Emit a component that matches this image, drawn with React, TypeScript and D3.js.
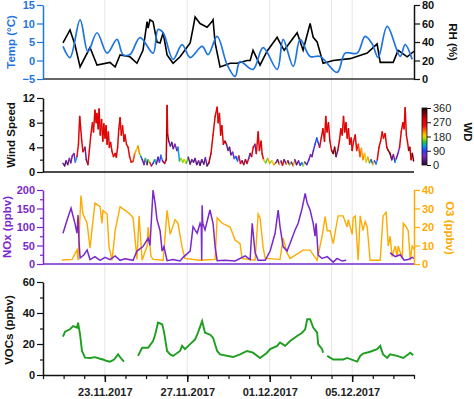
import * as d3 from "d3";
import { useEffect, useRef } from "react";

// time axis: days since 20.11.2017 00:00
const t0 = new Date(2017, 10, 20).getTime();
const day = (d: number) => new Date(t0 + d * 864e5);

const tempData: [number, number][] = [
  [0.97, 3.8], [1.31, 0.8], [1.8, 11], [2.18, 2.4], [2.62, 7.5], [3.11, 2], [3.59, 5.7], [3.88, 1.6],
  [4.22, 1.6], [4.71, 6.2], [5.34, 2], [5.58, 8.4], [5.83, 7.5], [6.31, 0.3], [6.75, 4.3], [7.14, 0.8],
  [7.72, 3.8], [8.01, 1.6], [8.45, 6.5], [8.93, -1.1], [9.32, -4.3], [9.56, -0.3], [10.19, -2.4],
  [10.68, 3.5], [11.36, -2.4], [11.65, 5.7], [12.14, -1.6], [12.48, 5.7], [12.96, 1.1], [13.45, 1.1],
  [14.27, -3.2], [14.66, 2], [15.24, 2], [15.63, 6.5], [15.97, 4.5], [16.26, 0.8], [16.7, 9.2],
  [17.33, 1.1], [17.57, 4.3], [17.91, 0.3],
];

const rhData: [number, number][] = [
  [0.97, 39], [1.31, 53], [1.55, 37], [1.8, 13], [2.28, 34], [2.62, 15], [3.25, 18], [3.5, 13],
  [3.74, 26], [4.22, 24], [4.56, 17], [4.85, 31], [5.05, 62], [5.1, 55], [5.19, 64], [5.34, 62],
  [5.53, 40], [5.68, 39], [5.83, 50], [6.02, 26], [6.31, 17], [6.65, 24], [7.14, 39], [7.28, 55],
  [7.38, 67], [7.62, 60], [7.96, 56], [8.2, 62], [8.25, 64], [8.35, 39], [8.59, 13], [9.08, 17],
  [9.42, 17], [9.9, 20], [10.05, 20], [10.19, 31], [10.53, 15], [10.87, 30], [11.36, 45], [11.5, 39],
  [11.7, 31], [12.33, 50], [12.62, 31], [12.96, 60], [13.11, 45], [13.3, 40], [13.59, 17], [14.08, 20],
  [14.9, 22], [15.73, 28], [16.21, 38], [16.36, 18], [16.99, 18], [17.23, 31], [17.67, 24], [18.0, 30],
];

// [day, wind speed, wind direction]
const windData: [number, number, number][] = [
  [0.97, 1.4, 40], [1.05, 1.0, 20], [1.12, 1.8, 50], [1.2, 1.2, 30], [1.28, 2.2, 60], [1.35, 1.5, 45],
  [1.42, 2.6, 55], [1.5, 3.0, 50], [1.57, 1.6, 120], [1.65, 2.5, 250], [1.72, 4.5, 270], [1.78, 9.0, 280],
  [1.82, 7.5, 275], [1.88, 5.0, 270], [1.94, 3.3, 280], [2.04, 4.0, 40], [2.1, 2.0, 30], [2.18, 1.2, 280],
  [2.25, 3.5, 270], [2.32, 6.0, 275], [2.4, 8.0, 270], [2.45, 6.5, 280], [2.52, 10.0, 270], [2.58, 8.0, 275],
  [2.62, 9.5, 270], [2.68, 7.0, 280], [2.72, 10.2, 275], [2.78, 6.0, 270], [2.84, 8.5, 275], [2.9, 5.0, 280],
  [2.95, 7.8, 270], [3.01, 5.5, 275], [3.06, 7.5, 280], [3.11, 4.5, 270], [3.17, 6.5, 275], [3.22, 4.0, 270],
  [3.28, 4.8, 280], [3.35, 3.3, 270], [3.42, 2.5, 275], [3.5, 3.0, 270], [3.56, 2.4, 280], [3.62, 4.0, 270],
  [3.68, 7.0, 275], [3.74, 8.8, 270], [3.8, 6.0, 280], [3.86, 7.5, 270], [3.93, 5.0, 275], [3.98, 6.0, 270],
  [4.05, 4.5, 280], [4.13, 4.0, 270], [4.2, 2.5, 260], [4.28, 1.6, 250], [4.37, 1.7, 230], [4.45, 3.0, 200],
  [4.52, 3.5, 180], [4.61, 4.2, 210], [4.68, 3.0, 160], [4.75, 2.5, 100], [4.82, 2.0, 40], [4.9, 1.2, 60],
  [4.97, 2.2, 140], [5.05, 1.2, 30], [5.1, 2.0, 160], [5.19, 1.5, 240], [5.26, 1.0, 50], [5.34, 1.4, 100],
  [5.42, 2.0, 130], [5.5, 1.3, 40], [5.58, 2.4, 90], [5.65, 1.6, 60], [5.72, 2.7, 110], [5.8, 1.8, 30],
  [5.9, 1.4, 280], [5.98, 2.0, 300], [6.02, 10.8, 280], [6.05, 6.0, 320], [6.1, 5.0, 40], [6.18, 4.2, 50],
  [6.25, 4.8, 30], [6.32, 3.8, 45], [6.4, 4.5, 60], [6.5, 3.5, 40], [6.55, 4.0, 120], [6.62, 1.8, 150],
  [6.7, 2.2, 170], [6.78, 1.6, 160], [6.85, 2.0, 180], [6.95, 1.4, 150], [7.05, 2.4, 40], [7.14, 1.3, 30],
  [7.22, 2.0, 50], [7.3, 1.6, 20], [7.38, 2.2, 45], [7.46, 1.2, 30], [7.55, 1.8, 50], [7.62, 1.1, 20],
  [7.7, 2.0, 40], [7.8, 1.3, 30], [7.88, 2.3, 50], [7.96, 1.0, 20], [8.05, 1.5, 300], [8.15, 3.0, 280],
  [8.25, 6.0, 275], [8.35, 9.0, 270], [8.45, 10.5, 280], [8.5, 8.0, 275], [8.56, 9.5, 270], [8.62, 6.0, 280],
  [8.68, 7.5, 275], [8.75, 4.5, 285], [8.83, 5.0, 310], [8.9, 4.5, 40], [8.98, 3.5, 50], [9.05, 4.0, 30],
  [9.12, 2.8, 45], [9.2, 3.2, 70], [9.28, 2.2, 100], [9.36, 2.5, 90], [9.44, 1.8, 110], [9.5, 2.6, 260],
  [9.58, 1.4, 270], [9.66, 1.8, 40], [9.74, 1.2, 280], [9.82, 2.0, 30], [9.9, 1.4, 270], [9.98, 2.2, 50],
  [10.05, 3.0, 40], [10.12, 2.5, 270], [10.2, 4.0, 280], [10.28, 4.5, 40], [10.35, 3.0, 270], [10.44, 6.5, 275],
  [10.5, 3.5, 280], [10.58, 5.0, 270], [10.63, 3.0, 275], [10.7, 2.0, 180], [10.8, 1.5, 150], [10.9, 2.2, 200],
  [11.0, 1.4, 160], [11.1, 1.8, 190], [11.2, 1.2, 210], [11.3, 1.5, 40], [11.38, 2.0, 30], [11.46, 1.3, 200],
  [11.55, 1.8, 50], [11.62, 1.1, 270], [11.7, 2.0, 40], [11.8, 1.3, 210], [11.88, 1.8, 30], [11.96, 1.2, 160],
  [12.05, 1.6, 50], [12.14, 1.0, 200], [12.22, 2.0, 40], [12.3, 1.2, 30], [12.4, 1.8, 60], [12.48, 1.1, 90],
  [12.56, 1.5, 120], [12.62, 1.0, 170], [12.7, 1.6, 40], [12.8, 1.2, 80], [12.9, 2.0, 50], [12.98, 2.8, 60],
  [13.05, 2.5, 40], [13.12, 3.5, 80], [13.2, 4.5, 95], [13.28, 5.5, 100], [13.35, 4.8, 90], [13.42, 4.0, 280],
  [13.5, 5.5, 270], [13.58, 7.0, 275], [13.66, 5.0, 280], [13.72, 9.0, 270], [13.78, 6.5, 275], [13.85, 8.0, 280],
  [13.92, 5.0, 270], [14.0, 3.5, 320], [14.08, 3.0, 330], [14.15, 4.0, 320], [14.22, 2.5, 30], [14.3, 3.5, 300],
  [14.38, 5.0, 280], [14.45, 7.0, 270], [14.52, 6.0, 275], [14.58, 9.0, 270], [14.64, 6.5, 280], [14.7, 8.0, 275],
  [14.76, 5.5, 270], [14.82, 7.0, 280], [14.88, 4.5, 275], [14.95, 5.5, 270], [15.0, 3.5, 280], [15.07, 5.0, 275],
  [15.15, 6.0, 270], [15.22, 3.5, 240], [15.3, 4.5, 230], [15.38, 2.5, 220], [15.45, 3.8, 200], [15.52, 2.0, 210],
  [15.6, 3.0, 190], [15.68, 1.6, 180], [15.76, 2.4, 200], [15.84, 1.5, 140], [15.92, 2.0, 100], [16.0, 1.2, 190],
  [16.08, 1.8, 60], [16.16, 1.3, 120], [16.22, 2.0, 270], [16.3, 4.0, 275], [16.38, 5.0, 270], [16.46, 6.5, 280],
  [16.52, 5.5, 270], [16.6, 6.2, 275], [16.68, 4.0, 300], [16.75, 3.5, 320], [16.84, 3.0, 330], [16.92, 2.0, 40],
  [17.0, 2.8, 50], [17.08, 1.6, 120], [17.14, 2.2, 40], [17.22, 3.0, 60], [17.3, 4.0, 280], [17.38, 6.5, 270],
  [17.46, 8.0, 275], [17.52, 7.0, 270], [17.57, 10.4, 275], [17.63, 6.0, 280], [17.68, 5.0, 270], [17.74, 3.5, 320],
  [17.8, 4.0, 300], [17.86, 2.0, 280], [17.92, 3.0, 330], [17.98, 1.8, 290],
];

const noxData: [number, number | null][] = [
  [0.97, 83], [1.17, 119], [1.36, 151], [1.41, 140], [1.55, 110], [1.65, 83], [1.7, 132], [1.75, 60],
  [1.8, 16], [1.99, 25], [2.14, 38], [2.28, 12], [2.52, 20], [2.77, 10], [3.01, 18], [3.25, 12], [3.5, 22],
  [3.74, 10], [3.98, 14], [4.37, 10], [4.56, 35], [4.85, 47], [5.1, 70], [5.19, 50], [5.34, 200], [5.44, 164],
  [5.53, 120], [5.68, 90], [5.78, 35], [5.87, 47], [6.02, 9], [6.31, 12], [6.65, 8], [6.8, 18], [7.14, 35],
  [7.28, 101], [7.48, 83], [7.62, 110], [7.68, 100], [7.7, 10], [7.72, 159], [7.75, 110], [7.86, 92],
  [8.1, 146], [8.25, 110], [8.35, 47], [8.45, 9], [8.83, 10], [9.32, 8], [9.81, 22], [10.05, 12], [10.15, 110],
  [10.29, 30], [10.44, 10], [10.78, 10], [11.02, 35], [11.26, 83], [11.41, 146], [11.5, 101], [11.65, 47],
  [11.84, 35], [11.99, 56], [12.23, 92], [12.38, 110], [12.57, 150], [12.72, 191], [12.82, 164], [12.96, 146],
  [13.11, 110], [13.2, 75], [13.25, 110], [13.35, 24], [13.54, 15], [13.79, 20], [14.08, 5], [14.27, 15],
  [14.51, 8], [14.71, 10], [14.8, null], [16.84, 30], [17.09, 20], [17.33, 25], [17.52, 10], [17.72, 12],
  [17.91, 18], [18.0, 15],
];

const o3Data: [number, number][] = [
  [0.92, 2.2], [1.41, 2.5], [1.65, 7.6], [1.7, 2], [1.84, 37], [1.94, 27], [2.14, 22], [2.28, 8.6], [2.52, 33],
  [2.77, 31], [2.86, 22], [2.91, 29], [3.11, 27], [3.2, 9.7], [3.35, 2], [3.5, 18], [3.74, 31], [3.98, 29],
  [4.22, 27], [4.37, 25], [4.56, 2.5], [4.66, 26], [4.81, 2], [5.05, 9.7], [5.1, 20], [5.24, 4], [5.34, 2.5],
  [5.83, 2], [6.02, 29], [6.17, 16], [6.41, 24], [6.55, 22], [6.75, 9], [6.89, 3], [7.62, 2], [8.35, 2.5],
  [8.45, 25], [8.69, 22], [9.08, 20], [9.32, 13], [9.56, 11], [9.66, 3], [10.29, 2], [10.44, 27], [10.53, 25],
  [10.68, 9], [10.78, 3], [11.5, 2.5], [11.65, 14], [11.84, 6], [11.99, 3], [12.62, 7.5], [12.96, 7.5],
  [13.3, 2], [13.54, 15], [13.69, 25.6], [13.79, 18], [13.93, 18], [14.08, 11], [14.22, 20], [14.32, 26],
  [14.56, 26], [14.76, 20], [14.81, 24], [15.0, 16], [15.05, 25], [15.15, 26], [15.29, 2], [15.39, 26],
  [15.53, 18], [15.63, 23], [15.73, 20], [15.87, 2], [16.36, 2], [16.5, 26], [16.65, 28], [16.75, 9.7],
  [16.84, 15], [16.94, 4], [17.09, 9.7], [17.18, 4], [17.23, 9.7], [17.43, 3], [17.48, 22], [17.62, 20],
  [17.72, 18], [17.82, 2], [17.91, 9.7], [18.0, 8],
];

const vocData: [number, number | null][] = [
  [0.97, 24.7], [1.07, 28], [1.31, 29.5], [1.46, 31.6], [1.65, 30.5], [1.7, 33.8], [1.8, 26], [1.89, 15.5],
  [2.04, 11.2], [2.28, 11], [2.52, 11.5], [2.77, 10.5], [2.91, 10], [3.11, 9], [3.25, 8.6], [3.45, 10],
  [3.64, 13.3], [3.83, 10], [3.93, 8.6], [4.2, null], [4.61, 12.3], [4.81, 17.6], [5.1, 17.6], [5.34, 21.9],
  [5.44, 26], [5.58, 33.8], [5.78, 32.7], [5.87, 28], [6.02, 15.5], [6.17, 13.3], [6.31, 12.3], [6.65, 15.5],
  [6.75, 18.8], [6.89, 16.7], [7.14, 19.9], [7.38, 23], [7.52, 27.3], [7.72, 34.8], [7.86, 27.3], [8.11, 26],
  [8.25, 24], [8.45, 15.5], [8.59, 13.3], [9.22, 11.6], [9.56, 13.3], [9.9, 15.5], [10.19, 14.4], [10.53, 11],
  [10.87, 14.4], [11.02, 16.7], [11.36, 18.8], [11.5, 21], [11.75, 18.8], [11.99, 21.9], [12.33, 25.2],
  [12.57, 27.3], [12.72, 29.5], [12.82, 36], [12.96, 36], [13.11, 30.6], [13.3, 27.3], [13.35, 19.9],
  [13.54, 16.7], [13.59, 14.4], [13.7, null], [13.79, 12.3], [14.08, 10], [14.56, 10], [14.76, 11],
  [15.24, 8.6], [15.39, 12.3], [15.53, 13.8], [15.87, 15], [16.21, 16.7], [16.36, 18.8], [16.5, 13.3],
  [16.7, 11], [16.84, 13.3], [17.18, 12.3], [17.48, 11], [17.82, 14.4], [17.96, 12.8],
];

const dateLabels = ["23.11.2017", "27.11.2017", "01.12.2017", "05.12.2017"];
const gridDays = [3, 7, 11, 14, 15];
const wdStops = [0, 30, 60, 90, 120, 145, 170, 190, 215, 245, 290, 320, 360];
const wdColors = ["#2a0a3a", "#5e1878", "#7a2bc8", "#2a3cff", "#0a9cf0", "#22c83c", "#b8e000", "#ffc400",
  "#ff7400", "#ee1010", "#d80000", "#8a0012", "#1c0000"];

const W = 474, H = 399;
const L = 43, R = 414;
const BLUE = "#1f74e0", PURPLE = "#7a28cc", ORANGE = "#ffaa00", GREEN = "#1e9e1e";
const FONT = "'Liberation Sans', Arial, sans-serif";

const App = () => {
  const ref = useRef<SVGSVGElement>(null);

  useEffect(() => {
    const svg = d3.select(ref.current);
    svg.selectAll("*").remove();
    svg.style("font-family", FONT);

    const x = d3.scaleTime().domain([day(0), day(18)]).range([L, R]);
    const parse = d3.timeParse("%d.%m.%Y");

    svg.append("g").selectAll("line").data(gridDays).join("line")
      .attr("x1", d => x(day(d))).attr("x2", d => x(day(d)))
      .attr("y1", 0).attr("y2", 375)
      .attr("stroke", "#e6e6e6").attr("stroke-width", 1);

    const yAxis = (scale: any, side: string, major: number[], minor: number[], color: string, xpos: number) => {
      const g = svg.append("g").attr("transform", `translate(${xpos},0)`);
      const ax = (side === "left" ? d3.axisLeft(scale) : d3.axisRight(scale))
        .tickValues(major).tickSize(6).tickSizeOuter(0).tickPadding(2);
      g.call(ax as any);
      g.select(".domain").attr("stroke", color).attr("stroke-width", 1.5);
      g.selectAll(".tick line").attr("stroke", color).attr("stroke-width", 1.2);
      g.selectAll(".tick text").attr("fill", color).attr("font-size", 11)
        .attr("font-weight", "bold").attr("font-family", FONT);
      if (minor.length) {
        const m = svg.append("g").attr("transform", `translate(${xpos},0)`);
        m.call((side === "left" ? d3.axisLeft(scale) : d3.axisRight(scale))
          .tickValues(minor).tickSize(3).tickFormat(() => "") as any);
        m.select(".domain").remove();
        m.selectAll(".tick line").attr("stroke", color).attr("stroke-width", 1.2);
      }
    };

    const hline = (y: number, color: string) =>
      svg.append("line").attr("x1", L).attr("x2", R).attr("y1", y).attr("y2", y)
        .attr("stroke", color).attr("stroke-width", 1.5);

    const label = (text: string, cx: number, cy: number, color: string, rot: number) =>
      svg.append("text").attr("transform", `translate(${cx},${cy}) rotate(${rot})`)
        .attr("text-anchor", "middle").attr("dy", "0.35em")
        .attr("font-size", 11.5).attr("font-weight", "bold").attr("fill", color).text(text);

    // panel 1: temperature and RH
    const yT = d3.scaleLinear().domain([-5, 15]).range([79, 5]);
    const yRH = d3.scaleLinear().domain([0, 80]).range([79, 5]);
    hline(79, "#333");
    svg.append("path").datum(rhData)
      .attr("d", d3.line<[number, number]>().x(d => x(day(d[0]))).y(d => yRH(d[1])))
      .attr("fill", "none").attr("stroke", "#000").attr("stroke-width", 1.6);
    svg.append("path").datum(tempData)
      .attr("d", d3.line<[number, number]>().curve(d3.curveCatmullRom.alpha(0.5))
        .x(d => x(day(d[0]))).y(d => yT(d[1])))
      .attr("fill", "none").attr("stroke", BLUE).attr("stroke-width", 1.7);
    yAxis(yT, "left", [-5, 0, 5, 10, 15], [], BLUE, L);
    yAxis(yRH, "right", [0, 20, 40, 60, 80], [], "#111", R);
    label("Temp (°C)", 11, 42, BLUE, -90);
    label("RH (%)", 453, 42, "#111", 90);

    // panel 2: wind speed coloured by wind direction
    const yWS = d3.scaleLinear().domain([0, 12]).range([172, 98]);
    const wdColor = d3.scaleLinear<string>().domain(wdStops).range(wdColors);
    svg.append("g").selectAll("line").data(d3.pairs(windData)).join("line")
      .attr("x1", d => x(day(d[0][0]))).attr("y1", d => yWS(d[0][1]))
      .attr("x2", d => x(day(d[1][0]))).attr("y2", d => yWS(d[1][1]))
      .attr("stroke", d => wdColor(d[0][2])).attr("stroke-width", 1.5)
      .attr("stroke-linecap", "round");
    hline(172, "#111");
    yAxis(yWS, "left", [0, 4, 8, 12], [2, 6, 10], "#111", L);
    label("Wind Speed", 11, 135, "#111", -90);

    const grad = svg.append("defs").append("linearGradient").attr("id", "wdgrad")
      .attr("x1", 0).attr("y1", 1).attr("x2", 0).attr("y2", 0);
    grad.selectAll("stop").data(wdStops).join("stop")
      .attr("offset", d => d / 360).attr("stop-color", (d, i) => wdColors[i]);
    const yWD = d3.scaleLinear().domain([0, 360]).range([165, 108]);
    svg.append("rect").attr("x", 422).attr("y", 108).attr("width", 5).attr("height", 57)
      .attr("fill", "url(#wdgrad)").attr("stroke", "#111").attr("stroke-width", 0.8);
    const cb = svg.append("g").attr("transform", "translate(427,0)")
      .call(d3.axisRight(yWD).tickValues([0, 90, 180, 270, 360]).tickSize(4).tickSizeOuter(0).tickPadding(2) as any);
    cb.select(".domain").remove();
    cb.selectAll(".tick line").attr("stroke", "#111");
    cb.selectAll(".tick text").attr("fill", "#222").attr("font-size", 11).attr("font-family", FONT);
    label("WD", 468, 132, "#111", 90);

    // panel 3: NOx and O3
    const yNOx = d3.scaleLinear().domain([0, 200]).range([264, 190]);
    const yO3 = d3.scaleLinear().domain([0, 40]).range([264, 190]);
    svg.append("path").datum(o3Data)
      .attr("d", d3.line<[number, number]>().x(d => x(day(d[0]))).y(d => yO3(d[1])))
      .attr("fill", "none").attr("stroke", ORANGE).attr("stroke-width", 1.4);
    svg.append("path").datum(noxData)
      .attr("d", d3.line<[number, number | null]>().defined(d => d[1] !== null)
        .x(d => x(day(d[0]))).y(d => yNOx(d[1] as number)))
      .attr("fill", "none").attr("stroke", PURPLE).attr("stroke-width", 1.5);
    hline(264, PURPLE);
    yAxis(yNOx, "left", [0, 50, 100, 150, 200], [25, 75, 125, 175], PURPLE, L);
    yAxis(yO3, "right", [0, 10, 20, 30, 40], [], ORANGE, R);
    label("NOx (ppbv)", 7, 227, PURPLE, -90);
    label("O3 (ppbv)", 450, 228, ORANGE, 90);

    // panel 4: VOCs
    const yV = d3.scaleLinear().domain([0, 60]).range([375, 282]);
    svg.append("path").datum(vocData)
      .attr("d", d3.line<[number, number | null]>().defined(d => d[1] !== null)
        .x(d => x(day(d[0]))).y(d => yV(d[1] as number)))
      .attr("fill", "none").attr("stroke", GREEN).attr("stroke-width", 1.9);
    yAxis(yV, "left", [0, 20, 40, 60], [10, 30, 50], "#111", L);
    label("VOCs (ppbv)", 9, 330, "#111", -90);

    const minorAx = svg.append("g").attr("transform", "translate(0,375)")
      .call(d3.axisBottom(x).ticks(d3.timeDay.every(1)).tickSize(4).tickSizeOuter(0).tickFormat(() => "") as any);
    minorAx.select(".domain").attr("stroke", "#111").attr("stroke-width", 1.5);
    minorAx.selectAll(".tick line").attr("stroke", "#111").attr("stroke-width", 1.2);
    const majorAx = svg.append("g").attr("transform", "translate(0,375)")
      .call(d3.axisBottom(x).tickValues(dateLabels.map(s => parse(s) as Date)).tickSize(7)
        .tickSizeOuter(0).tickPadding(6).tickFormat(d3.timeFormat("%d.%m.%Y") as any) as any);
    majorAx.select(".domain").remove();
    majorAx.selectAll(".tick line").attr("stroke", "#111").attr("stroke-width", 1.5);
    majorAx.selectAll(".tick text").attr("fill", "#222").attr("font-size", 11)
      .attr("font-weight", "bold").attr("font-family", FONT);
  }, []);

  return (
    <svg ref={ref} width={W} height={H}
      style={{ position: "absolute", left: 0, top: 0, background: "#fff" }} />
  );
};

export default App;
